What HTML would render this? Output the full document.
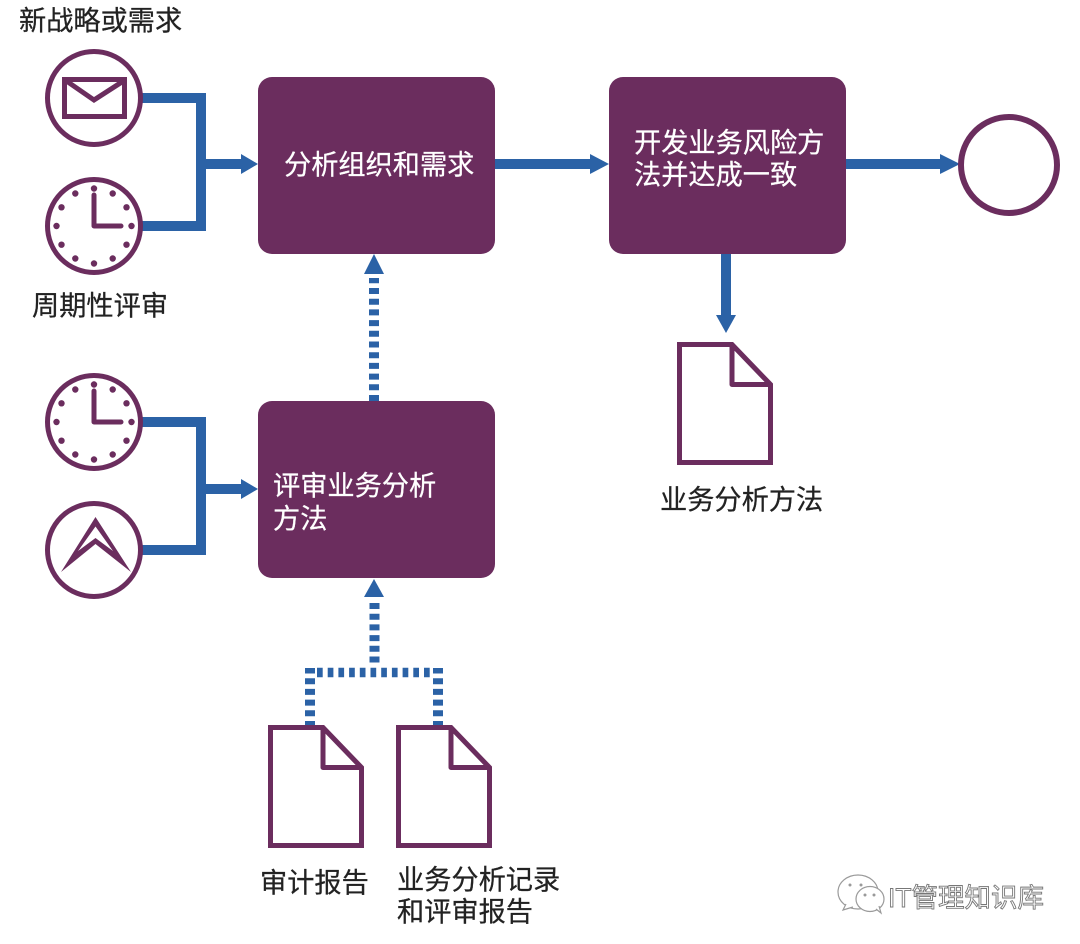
<!DOCTYPE html>
<html lang="zh">
<head>
<meta charset="utf-8">
<style>
html,body{margin:0;padding:0;background:#fff;width:1080px;height:944px;overflow:hidden}
svg{display:block}
text{font-family:"Liberation Sans","Noto Sans CJK SC",sans-serif;font-size:27.2px;fill:#222;stroke:#222;stroke-width:.25}
text.w{fill:#fff;stroke:#fff}
</style>
</head>
<body>
<svg width="1080" height="944" viewBox="0 0 1080 944" xmlns="http://www.w3.org/2000/svg">
<defs>
<g id="clock">
<circle r="46.5" fill="none" stroke="#6b2d5e" stroke-width="5"/>
<g fill="#6b2d5e">
<circle cx="0" cy="-37.5" r="3.2"/><circle cx="18.7" cy="-32.5" r="3.2"/><circle cx="32.5" cy="-18.7" r="3.2"/><circle cx="37.5" cy="0" r="3.2"/><circle cx="32.5" cy="18.7" r="3.2"/><circle cx="18.7" cy="32.5" r="3.2"/><circle cx="0" cy="37.5" r="3.2"/><circle cx="-18.7" cy="32.5" r="3.2"/><circle cx="-32.5" cy="18.7" r="3.2"/><circle cx="-37.5" cy="0" r="3.2"/><circle cx="-32.5" cy="-18.7" r="3.2"/><circle cx="-18.7" cy="-32.5" r="3.2"/>
</g>
<path d="M0,-31V0H27" fill="none" stroke="#6b2d5e" stroke-width="5" stroke-linejoin="round" stroke-linecap="round"/>
</g>
<g id="doc" fill="none" stroke="#6b2d5e" stroke-width="5">
<path d="M2.5,2.5H55L93.5,42.5V120.5H2.5Z"/>
<path d="M55,2.5V42.5H93.5" stroke-linejoin="round"/>
</g>
</defs>

<!-- solid connectors -->
<g fill="none" stroke="#2b62a6" stroke-width="10">
<path d="M142,98H201V226H142"/>
<path d="M201,164H242"/>
<path d="M495,164H592"/>
<path d="M846,164H942"/>
<path d="M726,254V316"/>
<path d="M142,422H201V550H142"/>
<path d="M201,489H242"/>
</g>
<g fill="#2b62a6">
<path d="M241,154L258,164L241,174Z"/>
<path d="M590,154L609,164L590,174Z"/>
<path d="M940,154L960,164L940,174Z"/>
<path d="M716,315H736L726,333Z"/>
<path d="M241,479L258,489L241,499Z"/>
<path d="M364,274L374,254L384,274Z"/>
<path d="M364,597L374,579L384,597Z"/>
</g>
<!-- dashed connectors -->
<g fill="none" stroke="#2b62a6" stroke-width="10" stroke-dasharray="6 4.7">
<path d="M374,401V278"/>
<path d="M374.5,662.5V602"/>
<path d="M310,727V668"/>
<path d="M438,727V668"/>
</g>
<path d="M317,672.5H432" fill="none" stroke="#2b62a6" stroke-width="9.5" stroke-dasharray="5.7 5"/>

<!-- process boxes -->
<g fill="#6b2d5e">
<rect x="258" y="77" width="237" height="177" rx="14"/>
<rect x="609" y="77" width="237" height="177" rx="14"/>
<rect x="258" y="401" width="237" height="177" rx="14"/>
</g>

<!-- events -->
<circle cx="94" cy="98" r="46.5" fill="#fff" stroke="#6b2d5e" stroke-width="5"/>
<rect x="64.5" y="79.5" width="60" height="37" fill="none" stroke="#6b2d5e" stroke-width="5"/>
<path d="M65,80L94,100L125,80" fill="none" stroke="#6b2d5e" stroke-width="5"/>
<circle cx="94" cy="226" r="46.5" fill="#fff"/>
<use href="#clock" x="94" y="226"/>
<circle cx="94" cy="422" r="46.5" fill="#fff"/>
<use href="#clock" x="94" y="422"/>
<circle cx="94" cy="550" r="46.5" fill="#fff" stroke="#6b2d5e" stroke-width="5"/>
<path d="M95.5,517L131,572L95.5,544L61,572Z" fill="#6b2d5e"/>
<path d="M95.5,526.5L113,551L95.5,538L78,551Z" fill="#fff"/>
<circle cx="1009" cy="165" r="48" fill="#fff" stroke="#6b2d5e" stroke-width="6"/>

<!-- documents -->
<use href="#doc" x="268" y="725"/>
<use href="#doc" x="396" y="725"/>
<use href="#doc" x="677" y="342"/>

<!-- labels -->
<text x="19" y="30">新战略或需求</text>
<text x="32" y="315">周期性评审</text>
<text class="w" x="284" y="174">分析组织和需求</text>
<text class="w" x="634" y="152">开发业务风险方</text>
<text class="w" x="634" y="184">法并达成一致</text>
<text class="w" x="273" y="495">评审业务分析</text>
<text class="w" x="273" y="528">方法</text>
<text x="660" y="509">业务分析方法</text>
<text x="260" y="892">审计报告</text>
<text x="397" y="889">业务分析记录</text>
<text x="397" y="921">和评审报告</text>

<!-- watermark -->
<g fill="#fff" stroke="#9a9a9a" stroke-width="1.2">
<ellipse cx="858" cy="892" rx="20" ry="17"/>
<path d="M846,904L843,910L853,907"/>
<ellipse cx="870" cy="899" rx="14" ry="12.5"/>
<path d="M876,909L881,913L879,906"/>
</g>
<g fill="#9a9a9a">
<circle cx="850" cy="885" r="1.5"/><circle cx="861" cy="885" r="1.5"/><circle cx="865" cy="895" r="1.5"/><circle cx="874" cy="895" r="1.5"/>
</g>
<text x="888" y="907" style="font-size:26.5px;fill:#fff;stroke:#777;stroke-width:.9">IT管理知识库</text>
</svg>
</body>
</html>
